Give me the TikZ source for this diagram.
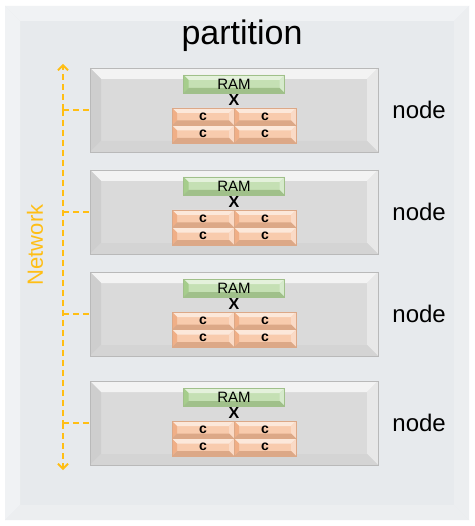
\documentclass[tikz,border=0pt]{standalone}
\usepackage{fontspec}
\setmainfont{Liberation Sans}
\usetikzlibrary{arrows.meta,positioning,calc}
\definecolor{partface}{RGB}{231,234,237}
\definecolor{partlight}{RGB}{240,242,244}
\definecolor{partdark}{RGB}{236,238,240}
\definecolor{boxface}{RGB}{218,218,218}
\definecolor{boxtop}{RGB}{243,243,243}
\definecolor{boxleft}{RGB}{206,206,206}
\definecolor{boxright}{RGB}{232,232,232}
\definecolor{boxbottom}{RGB}{212,212,212}
\definecolor{boxedge}{RGB}{185,185,185}
\definecolor{ramface}{RGB}{197,224,180}
\definecolor{ramtop}{RGB}{228,241,219}
\definecolor{ramleft}{RGB}{166,205,140}
\definecolor{ramright}{RGB}{214,234,204}
\definecolor{ramedge}{RGB}{160,192,138}
\definecolor{coreface}{RGB}{248,203,173}
\definecolor{coretop}{RGB}{252,232,218}
\definecolor{coreleft}{RGB}{240,175,135}
\definecolor{coreright}{RGB}{250,218,198}
\definecolor{coreedge}{RGB}{220,168,135}
\definecolor{netorange}{RGB}{255,190,20}
\tikzset{
  % bevelled box: depth, top, left, right, bottom
  bevel/.style n args={5}{
    path picture={
      \coordinate (bnw) at (path picture bounding box.north west);
      \coordinate (bne) at (path picture bounding box.north east);
      \coordinate (bse) at (path picture bounding box.south east);
      \coordinate (bsw) at (path picture bounding box.south west);
      \fill[#2] (bnw) -- (bne) -- ([shift={(-#1,-#1)}]bne) -- ([shift={(#1,-#1)}]bnw) -- cycle;
      \fill[#3] (bnw) -- (bsw) -- ([shift={(#1,#1)}]bsw) -- ([shift={(#1,-#1)}]bnw) -- cycle;
      \fill[#4] (bne) -- (bse) -- ([shift={(-#1,#1)}]bse) -- ([shift={(-#1,-#1)}]bne) -- cycle;
      \fill[#5] (bsw) -- (bse) -- ([shift={(-#1,#1)}]bse) -- ([shift={(#1,#1)}]bsw) -- cycle;
    }
  },
  % partition
  partbox/.style={
    fill=partface, inner sep=0pt,
    minimum width=464pt, minimum height=514pt,
    bevel={15pt}{partlight}{partlight}{partdark}{partdark}
  },
  % compute node
  nodebox/.style={
    fill=boxface, draw=boxedge, line width=0.4pt, inner sep=0pt,
    minimum width=288pt, minimum height=84pt,
    bevel={11pt}{boxtop}{boxleft}{boxright}{boxbottom}
  },
  % memory
  rambox/.style={
    fill=ramface, draw=ramedge, line width=0.4pt, inner sep=0pt,
    minimum width=101pt, minimum height=18pt,
    bevel={5pt}{ramtop}{ramleft}{ramright}{ramedge},
    font=\fontsize{15}{15}\selectfont
  },
  % core
  corebox/.style={
    fill=coreface, draw=coreedge, line width=0.4pt, inner sep=0pt,
    minimum width=62pt, minimum height=17.5pt,
    bevel={5pt}{coretop}{coreleft}{coreright}{coreedge},
    font=\bfseries\fontsize{14}{14}\selectfont
  },
  lbl/.style={inner sep=0pt, font=\fontsize{24}{24}\selectfont},
  netline/.style={netorange, line width=1.8pt, dash pattern=on 6pt off 4pt},
  nettip/.style={-{Straight Barb[length=5pt,width=10pt,line width=1.8pt]}},
}
\begin{document}
\begin{tikzpicture}[x=1pt,y=-1pt]
  \useasboundingbox[fill=white] (0,0) rectangle (474,526);
  \node[partbox] (part) at (237,263) {};
  \node[font=\fontsize{34}{34}\selectfont] (title) at (242,36) {partition};

  % nodes
  \foreach \i/\y in {1/110,2/212,3/314,4/423}{
    \node[nodebox] (box\i) at (234,\y) {};
    \node[rambox] (ram\i) at ([yshift=26pt]box\i.center) {RAM};
    \node[inner sep=0pt, font=\bfseries\fontsize{16}{16}\selectfont] (x\i) at ([yshift=10pt]box\i.center) {X};
    \node[corebox] (c\i a) at ([xshift=-31pt,yshift=-6.75pt]box\i.center) {c};
    \node[corebox] (c\i b) at ([xshift=31pt,yshift=-6.75pt]box\i.center) {c};
    \node[corebox] (c\i c) at ([xshift=-31pt,yshift=-24.25pt]box\i.center) {c};
    \node[corebox] (c\i d) at ([xshift=31pt,yshift=-24.25pt]box\i.center) {c};
    \node[lbl, right=14pt of box\i] (lab\i) {node};
  }

  % network
  \coordinate (nettop) at (63,64);
  \coordinate (netbot) at (63,470);
  \draw[netline, nettip] (box1.west -| nettop) -- (nettop);
  \draw[netline, nettip] (box4.west -| netbot) -- (netbot);
  \draw[netline] (box1.west -| nettop) -- (box4.west -| netbot);
  \foreach \i in {1,...,4}
    \draw[netline] (box\i.west -| nettop) -- (box\i.west);
  \node[rotate=90, text=netorange, font=\fontsize{22}{22}\selectfont] (netlbl) at (35,245) {Network};
\end{tikzpicture}
\end{document}
